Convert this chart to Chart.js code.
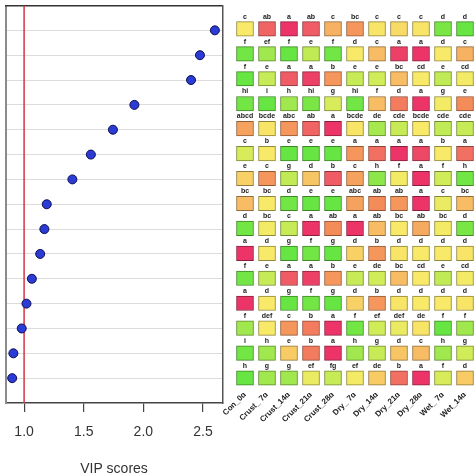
<!DOCTYPE html>
<html>
<head>
<meta charset="utf-8">
<script src="https://cdn.jsdelivr.net/npm/chart.js@4.4.0/dist/chart.umd.min.js"></script>
<style>
  html, body { margin: 0; padding: 0; background: #fff; width: 474px; height: 474px; overflow: hidden; position: relative; }
  #vip { position: absolute; left: 0; top: 0; }
  #heat { position: absolute; left: 200px; top: 0; }
</style>
</head>
<body>
<canvas id="vip" width="228" height="474"></canvas>
<canvas id="heat" width="286" height="474"></canvas>
<script>
// VIP scores, top row first
const vipScores = [2.60, 2.475, 2.40, 1.925, 1.745, 1.56, 1.405, 1.19, 1.17, 1.135, 1.065, 1.02, 0.98, 0.91, 0.90];
const VIP_CUTOFF = 1.0;
const vipTicks = [1.0, 1.5, 2.0, 2.5];

// heatmap columns (samples)
const sampleLabels = ['Con_0d', 'Crust_ 7d', 'Crust_14d', 'Crust_21d', 'Crust_28d',
    'Dry_ 7d', 'Dry_14d', 'Dry_21d', 'Dry_28d', 'Wet_ 7d', 'Wet_14d'];

// relative level per cell (0 = low / green, 1 = high / red), top row first
const heatLevels = [
    [0.50, 0.88, 1.00, 0.90, 0.68, 0.75, 0.52, 0.55, 0.52, 0.10, 0.05],
    [0.08, 0.20, 0.05, 0.30, 0.08, 0.50, 0.65, 0.97, 1.00, 0.50, 0.68],
    [0.05, 0.32, 0.90, 0.97, 0.75, 0.32, 0.35, 0.65, 0.50, 0.30, 0.48],
    [0.08, 0.05, 0.20, 0.10, 0.38, 0.08, 0.65, 0.82, 1.00, 0.48, 0.78],
    [0.72, 0.52, 0.75, 0.88, 1.00, 0.52, 0.22, 0.32, 0.50, 0.30, 0.32],
    [0.38, 0.50, 0.05, 0.05, 0.05, 0.75, 0.85, 1.00, 0.95, 0.50, 0.85],
    [0.58, 0.75, 0.30, 0.62, 0.90, 0.72, 0.15, 0.48, 1.00, 0.35, 0.08],
    [0.65, 0.50, 0.08, 0.05, 0.05, 0.72, 0.78, 0.75, 1.00, 0.45, 0.65],
    [0.08, 0.48, 0.32, 1.00, 0.78, 1.00, 0.65, 0.50, 0.70, 0.48, 0.10],
    [1.00, 0.50, 0.05, 0.08, 0.05, 0.58, 0.75, 0.52, 0.50, 0.50, 0.52],
    [0.08, 0.32, 0.90, 0.97, 0.75, 0.32, 0.35, 0.65, 0.50, 0.30, 0.48],
    [1.00, 0.50, 0.05, 0.08, 0.05, 0.58, 0.75, 0.52, 0.50, 0.50, 0.52],
    [0.20, 0.50, 0.75, 0.82, 1.00, 0.08, 0.35, 0.45, 0.52, 0.05, 0.20],
    [0.08, 0.20, 0.60, 0.82, 1.00, 0.20, 0.32, 0.62, 0.65, 0.20, 0.35],
    [0.05, 0.20, 0.20, 0.45, 0.32, 0.48, 0.60, 0.85, 1.00, 0.38, 0.60]
];

// significance letters per cell
const heatLetters = [
    ['c', 'ab', 'a', 'ab', 'c', 'bc', 'c', 'c', 'c', 'd', 'd'],
    ['f', 'ef', 'f', 'e', 'f', 'd', 'c', 'a', 'a', 'd', 'c'],
    ['f', 'e', 'a', 'a', 'b', 'e', 'e', 'bc', 'cd', 'e', 'cd'],
    ['hi', 'i', 'h', 'hi', 'g', 'hi', 'f', 'd', 'a', 'g', 'e'],
    ['abcd', 'bcde', 'abc', 'ab', 'a', 'bcde', 'de', 'cde', 'bcde', 'cde', 'cde'],
    ['c', 'b', 'e', 'e', 'e', 'a', 'a', 'a', 'a', 'b', 'a'],
    ['e', 'c', 'g', 'd', 'b', 'c', 'h', 'f', 'a', 'f', 'h'],
    ['bc', 'bc', 'd', 'e', 'e', 'abc', 'ab', 'ab', 'a', 'c', 'bc'],
    ['d', 'bc', 'c', 'a', 'ab', 'a', 'ab', 'bc', 'ab', 'bc', 'd'],
    ['a', 'd', 'g', 'f', 'g', 'd', 'b', 'd', 'd', 'd', 'd'],
    ['f', 'e', 'a', 'a', 'b', 'e', 'de', 'bc', 'cd', 'e', 'cd'],
    ['a', 'd', 'g', 'f', 'g', 'd', 'b', 'd', 'd', 'd', 'd'],
    ['f', 'def', 'c', 'b', 'a', 'f', 'ef', 'def', 'de', 'f', 'f'],
    ['i', 'h', 'e', 'b', 'a', 'h', 'g', 'd', 'c', 'h', 'g'],
    ['h', 'g', 'g', 'ef', 'fg', 'ef', 'de', 'b', 'a', 'f', 'd']
];

const ROW_COUNT = vipScores.length;
const FONT = '"Liberation Sans", Arial, sans-serif';

// green -> yellow -> red colour ramp
const colorStops = [
    [0.00, [84, 228, 62]],
    [0.20, [160, 232, 78]],
    [0.35, [208, 236, 88]],
    [0.50, [248, 234, 104]],
    [0.65, [248, 188, 100]],
    [0.78, [244, 140, 90]],
    [0.90, [240, 92, 102]],
    [1.00, [236, 52, 104]]
];

function rampRgb(v) {
    for (let i = 1; i < colorStops.length; i++) {
        const [p1, c1] = colorStops[i];
        const [p0, c0] = colorStops[i - 1];
        if (v <= p1) {
            const t = (v - p0) / (p1 - p0);
            return c0.map((c, k) => Math.round(c + (c1[k] - c) * t));
        }
    }
    return colorStops[colorStops.length - 1][1];
}
const fillColor = v => 'rgb(' + rampRgb(v).join(',') + ')';
const edgeColor = v => 'rgb(' + rampRgb(v).map(c => Math.round(c * 0.58)).join(',') + ')';

// --- left panel: VIP dot plot ---
const xMin = 0.844, xMax = 2.664;
new Chart(document.getElementById('vip'), {
    type: 'scatter',
    data: {
        datasets: [
            {
                data: [{x: VIP_CUTOFF, y: 0}, {x: VIP_CUTOFF, y: ROW_COUNT + 1}],
                showLine: true,
                borderColor: '#d8404f',
                borderWidth: 1.6,
                pointRadius: 0,
                order: 2
            },
            {
                data: vipScores.map((v, i) => ({x: v, y: ROW_COUNT - i})),
                backgroundColor: '#2a3bd6',
                borderColor: '#0d0d50',
                borderWidth: 1,
                pointRadius: 4.5,
                order: 1
            }
        ]
    },
    options: {
        responsive: false,
        animation: false,
        layout: { padding: { left: 2, right: 2, top: 4, bottom: 0 } },
        plugins: { legend: { display: false }, tooltip: { enabled: false } },
        scales: {
            x: {
                type: 'linear', min: xMin, max: xMax,
                afterBuildTicks: s => { s.ticks = vipTicks.map(v => ({ value: v })); },
                ticks: {
                    callback: v => v.toFixed(1),
                    font: { family: FONT, size: 14 }, color: '#333', padding: 12, maxRotation: 0
                },
                grid: { drawOnChartArea: false, tickLength: 9, tickColor: '#444', lineWidth: 1.2 },
                border: { color: '#444', width: 1.5 },
                title: { display: true, text: 'VIP scores', font: { family: FONT, size: 14 }, color: '#333', padding: { top: 0, bottom: -4 } },
                afterFit: s => { s.height = 71; }
            },
            y: {
                type: 'linear', min: 0, max: ROW_COUNT + 1,
                ticks: { display: false, stepSize: 1 },
                grid: {
                    drawTicks: false,
                    color: c => (c.tick.value === 0 || c.tick.value === ROW_COUNT + 1) ? 'rgba(0,0,0,0)' : '#dcdcdc'
                },
                border: { color: '#8c8c8c', width: 2 },
                afterFit: s => { s.width = 0; }
            },
            xTop: {
                type: 'linear', position: 'top', min: xMin, max: xMax,
                ticks: { display: false }, grid: { display: false, drawTicks: false },
                border: { color: '#333', width: 1.5 },
                afterFit: s => { s.height = 0; }
            },
            yRight: {
                type: 'linear', position: 'right', min: 0, max: ROW_COUNT + 1,
                ticks: { display: false }, grid: { display: false, drawTicks: false },
                border: { color: '#555', width: 1.5 },
                afterFit: s => { s.width = 0; }
            }
        }
    }
});

// --- right panel: heatmap of squares with letters ---
const cellLetters = {
    id: 'cellLetters',
    afterDatasetsDraw(chart) {
        const { ctx } = chart;
        ctx.save();
        ctx.font = 'bold 7px ' + FONT;
        ctx.fillStyle = '#222';
        ctx.textAlign = 'center';
        ctx.textBaseline = 'bottom';
        chart.data.datasets.forEach((ds, i) => {
            chart.getDatasetMeta(i).data.forEach((bar, j) => {
                const top = Math.min(bar.y, bar.base);
                ctx.fillText(ds.letters[j], bar.x, top - 1.5);
            });
        });
        ctx.restore();
    }
};

const HALF = 0.29; // half square height in row units
new Chart(document.getElementById('heat'), {
    type: 'bar',
    data: {
        labels: sampleLabels,
        datasets: heatLevels.map((row, r) => ({
            data: row.map(() => [ROW_COUNT - r - HALF, ROW_COUNT - r + HALF]),
            backgroundColor: row.map(fillColor),
            borderColor: row.map(edgeColor),
            borderWidth: 1,
            borderSkipped: false,
            barThickness: 17,
            grouped: false,
            letters: heatLetters[r]
        }))
    },
    options: {
        responsive: false,
        animation: false,
        layout: { padding: { left: 34, right: 10, top: 4, bottom: 0 } },
        plugins: { legend: { display: false }, tooltip: { enabled: false } },
        scales: {
            x: {
                offset: true,
                grid: { display: false, drawTicks: false },
                border: { display: false },
                ticks: {
                    autoSkip: false, minRotation: 45, maxRotation: 45,
                    font: { family: FONT, size: 8, weight: 'bold' }, color: '#222', padding: -3
                },
                afterFit: s => { s.height = 81; }
            },
            y: { type: 'linear', min: 0.4, max: ROW_COUNT + 1, display: false }
        }
    },
    plugins: [cellLetters]
});
</script>
</body>
</html>
